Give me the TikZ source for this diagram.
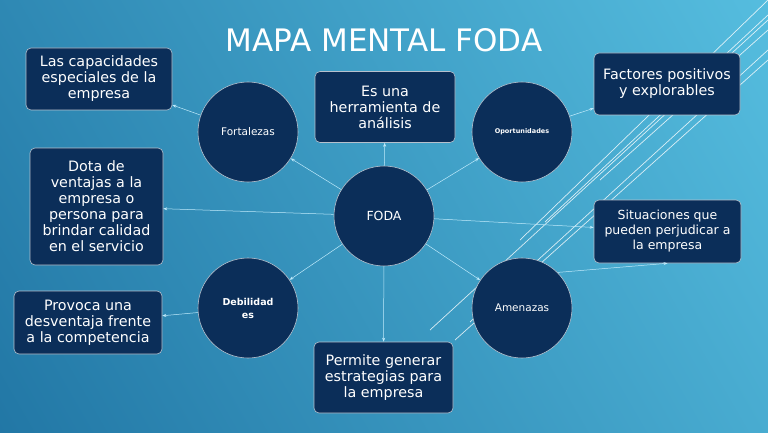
\documentclass[tikz,border=0pt]{standalone}
\usepackage{fontspec}
\setmainfont{DejaVu Sans}
\usetikzlibrary{arrows.meta}
\definecolor{navy}{HTML}{0B2E59}
\definecolor{bgA}{HTML}{1B6E9E}
\definecolor{bgB}{HTML}{5CC6E6}
\tikzset{
  circ/.style={circle,fill=navy,draw=white!70!navy,line width=0.6pt,minimum size=100pt,inner sep=0pt,text=white,font=\fontsize{10.5}{12.5}\selectfont,align=center},
  tbox/.style={rectangle,rounded corners=5pt,fill=navy,draw=white!70!navy,line width=0.6pt,text=white,font=\fontsize{14.3}{16}\selectfont,align=center,inner sep=2pt},
  con/.style={draw=white!75!cyan,line width=0.5pt,-{Stealth[length=4pt,width=3pt]}},
  deco/.style={draw=white,line width=0.7pt,opacity=0.8}
}
\begin{document}
\begin{tikzpicture}[x=1pt,y=-1pt]
\useasboundingbox (0,0) rectangle (768,433);
\shade[top color=bgB,bottom color=bgA,shading angle=-60] (-200,-300) rectangle (968,733);
\draw[deco] (455,340) -- (768,60);
\draw[deco] (470,322) -- (768,50);
\draw[deco] (430,330) -- (768,20);
\draw[deco] (520,240) -- (768,0);
\draw[deco] (545,222) -- (768,15);
\draw[deco] (600,180) -- (768,30);
\node[text=white,font=\fontsize{31}{35}\selectfont] (title) at (384,40) {MAPA MENTAL FODA};
\node[circ,font=\fontsize{12.5}{14}\selectfont] (fo) at (384,216) {FODA};
\node[circ] (fz) at (248,132) {Fortalezas};
\node[circ,font=\fontsize{6.5}{7}\selectfont\bfseries] (op) at (522,132) {Oportunidades};
\node[circ,font=\fontsize{9.5}{13}\selectfont\bfseries] (de) at (248,308) {Debilidad\\es};
\node[circ] (am) at (522,308) {Amenazas};
\node[tbox,minimum width=146pt,minimum height=62pt] (b1) at (99,79) {Las capacidades\\especiales de la\\empresa};
\node[tbox,minimum width=140pt,minimum height=71pt] (b2) at (385,107) {Es una\\herramienta de\\análisis};
\node[tbox,minimum width=146pt,minimum height=62pt] (b3) at (667,84) {Factores positivos\\y explorables};
\node[tbox,minimum width=133pt,minimum height=117pt] (b4) at (96.5,206.5) {Dota de\\ventajas a la\\empresa o\\persona para\\brindar calidad\\en el servicio};
\node[tbox,minimum width=147pt,minimum height=63pt,font=\fontsize{12.5}{15}\selectfont] (b5) at (667.5,231.5) {Situaciones que\\pueden perjudicar a\\la empresa};
\node[tbox,minimum width=148pt,minimum height=63pt] (b6) at (88,322.5) {Provoca una\\desventaja frente\\a la competencia};
\node[tbox,minimum width=139pt,minimum height=71pt] (b7) at (383.5,377.5) {Permite generar\\estrategias para\\la empresa};
\draw[con] (fz) -- (b1);
\draw[con] (fo) -- (fz);
\draw[con] (fo) -- (b2);
\draw[con] (fo) -- (op);
\draw[con] (op) -- (b3);
\draw[con] (fo) -- (b4);
\draw[con] (fo) -- (b5);
\draw[con] (fo) -- (de);
\draw[con] (fo) -- (am);
\draw[con] (fo) -- (b7);
\draw[con] (de) -- (b6);
\draw[con] (am.north east) -- (b5.south);
\end{tikzpicture}
\end{document}
